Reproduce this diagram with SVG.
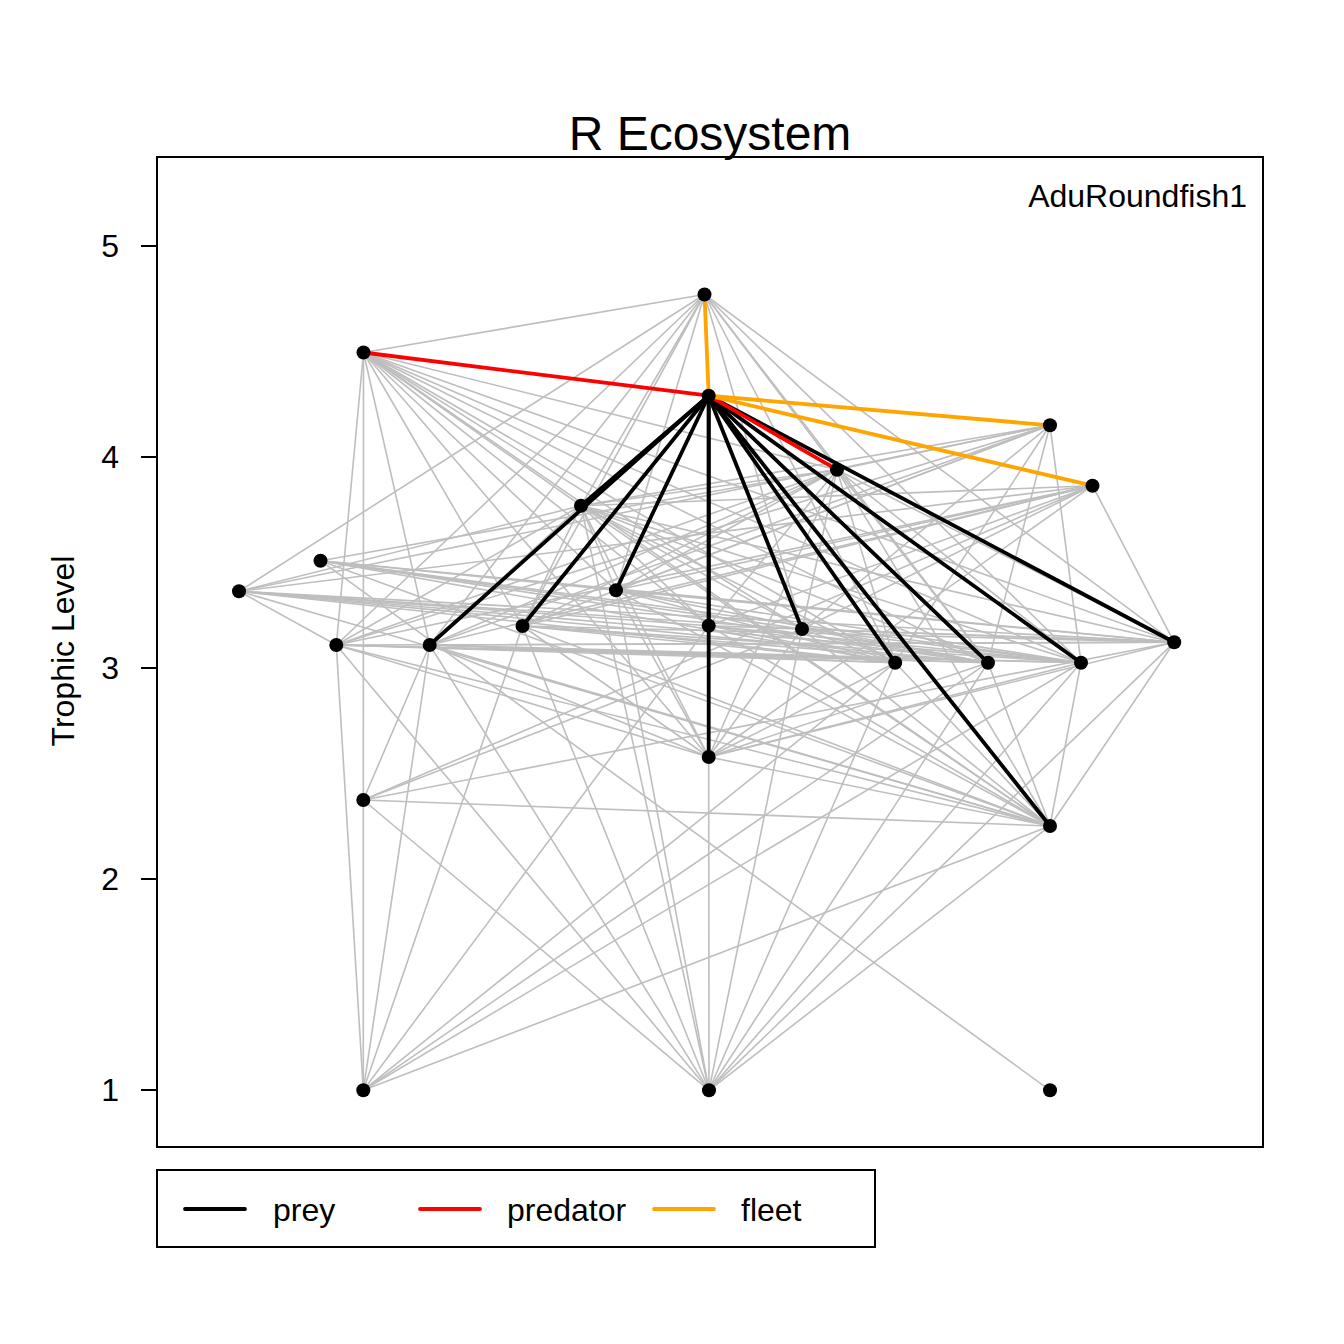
<svg xmlns="http://www.w3.org/2000/svg" width="1344" height="1344" viewBox="0 0 1344 1344">
<style>
text{font-family:"Liberation Sans",Arial,Helvetica,sans-serif;fill:#000}
.g line{stroke:#BEBEBE;stroke-width:1.6;stroke-linecap:round}
.hk line{stroke:#000;stroke-width:3.8;stroke-linecap:round}
.hr line{stroke:#FF0000;stroke-width:3.8;stroke-linecap:round}
.ho line{stroke:#FFA500;stroke-width:3.8;stroke-linecap:round}
.node circle{fill:#000}
.ax{stroke:#000;stroke-width:2;fill:none}
</style>
<rect width="1344" height="1344" fill="#fff"/>
<text x="710" y="150" font-size="48" text-anchor="middle">R Ecosystem</text>
<rect class="ax" x="157" y="157" width="1106" height="990"/>
<g class="ax">
<line x1="157" y1="1090" x2="157" y2="246"/>
<line x1="141" y1="1090" x2="157" y2="1090"/>
<line x1="141" y1="879" x2="157" y2="879"/>
<line x1="141" y1="668" x2="157" y2="668"/>
<line x1="141" y1="457" x2="157" y2="457"/>
<line x1="141" y1="246" x2="157" y2="246"/>
</g>
<g font-size="32" text-anchor="end">
<text x="119" y="1101">1</text>
<text x="119" y="890">2</text>
<text x="119" y="679">3</text>
<text x="119" y="468">4</text>
<text x="119" y="257">5</text>
</g>
<text transform="translate(74,651) rotate(-90)" font-size="32" text-anchor="middle">Trophic Level</text>
<text x="1247" y="207" font-size="32" text-anchor="end">AduRoundfish1</text>
<g id="connectors">
<g class="g">
<line x1="704.5" y1="294.5" x2="363.5" y2="352.5"/>
<line x1="704.5" y1="294.5" x2="239" y2="591.3"/>
<line x1="704.5" y1="294.5" x2="336.3" y2="645"/>
<line x1="704.5" y1="294.5" x2="429.7" y2="645"/>
<line x1="704.5" y1="294.5" x2="522.5" y2="626"/>
<line x1="704.5" y1="294.5" x2="581" y2="505.7"/>
<line x1="704.5" y1="294.5" x2="616" y2="590.3"/>
<line x1="704.5" y1="294.5" x2="802" y2="629"/>
<line x1="704.5" y1="294.5" x2="895.2" y2="662.7"/>
<line x1="704.5" y1="294.5" x2="988" y2="662.7"/>
<line x1="704.5" y1="294.5" x2="1081" y2="662.7"/>
<line x1="704.5" y1="294.5" x2="1174.2" y2="642.3"/>
<line x1="704.5" y1="294.5" x2="837" y2="469.7"/>
<line x1="1050" y1="425.3" x2="581" y2="505.7"/>
<line x1="1050" y1="425.3" x2="239" y2="591.3"/>
<line x1="1050" y1="425.3" x2="336.3" y2="645"/>
<line x1="1050" y1="425.3" x2="429.7" y2="645"/>
<line x1="1050" y1="425.3" x2="616" y2="590.3"/>
<line x1="1050" y1="425.3" x2="522.5" y2="626"/>
<line x1="1050" y1="425.3" x2="837" y2="469.7"/>
<line x1="1050" y1="425.3" x2="895.2" y2="662.7"/>
<line x1="1050" y1="425.3" x2="988" y2="662.7"/>
<line x1="1050" y1="425.3" x2="1081" y2="662.7"/>
<line x1="1050" y1="425.3" x2="802" y2="629"/>
<line x1="1092.5" y1="485.7" x2="1174.2" y2="642.3"/>
<line x1="1092.5" y1="485.7" x2="363.3" y2="800"/>
<line x1="1092.5" y1="485.7" x2="336.3" y2="645"/>
<line x1="1092.5" y1="485.7" x2="429.7" y2="645"/>
<line x1="1092.5" y1="485.7" x2="522.5" y2="626"/>
<line x1="1092.5" y1="485.7" x2="616" y2="590.3"/>
<line x1="1092.5" y1="485.7" x2="708.7" y2="625.7"/>
<line x1="1092.5" y1="485.7" x2="802" y2="629"/>
<line x1="1092.5" y1="485.7" x2="239" y2="591.3"/>
<line x1="1092.5" y1="485.7" x2="581" y2="505.7"/>
<line x1="1092.5" y1="485.7" x2="708.7" y2="757"/>
<line x1="363.5" y1="352.5" x2="837" y2="469.7"/>
<line x1="363.5" y1="352.5" x2="581" y2="505.7"/>
<line x1="363.5" y1="352.5" x2="616" y2="590.3"/>
<line x1="363.5" y1="352.5" x2="522.5" y2="626"/>
<line x1="363.5" y1="352.5" x2="708.7" y2="625.7"/>
<line x1="363.5" y1="352.5" x2="802" y2="629"/>
<line x1="363.5" y1="352.5" x2="336.3" y2="645"/>
<line x1="363.5" y1="352.5" x2="429.7" y2="645"/>
<line x1="363.5" y1="352.5" x2="895.2" y2="662.7"/>
<line x1="363.5" y1="352.5" x2="988" y2="662.7"/>
<line x1="363.5" y1="352.5" x2="1081" y2="662.7"/>
<line x1="363.5" y1="352.5" x2="363.3" y2="800"/>
<line x1="363.5" y1="352.5" x2="1050" y2="826"/>
<line x1="363.5" y1="352.5" x2="708.7" y2="757"/>
<line x1="363.5" y1="352.5" x2="1174.2" y2="642.3"/>
<line x1="837" y1="469.7" x2="320.5" y2="560.7"/>
<line x1="837" y1="469.7" x2="336.3" y2="645"/>
<line x1="837" y1="469.7" x2="429.7" y2="645"/>
<line x1="837" y1="469.7" x2="522.5" y2="626"/>
<line x1="837" y1="469.7" x2="616" y2="590.3"/>
<line x1="837" y1="469.7" x2="708.7" y2="625.7"/>
<line x1="837" y1="469.7" x2="802" y2="629"/>
<line x1="837" y1="469.7" x2="895.2" y2="662.7"/>
<line x1="837" y1="469.7" x2="988" y2="662.7"/>
<line x1="837" y1="469.7" x2="1081" y2="662.7"/>
<line x1="837" y1="469.7" x2="1174.2" y2="642.3"/>
<line x1="837" y1="469.7" x2="708.7" y2="757"/>
<line x1="837" y1="469.7" x2="1050" y2="826"/>
<line x1="837" y1="469.7" x2="581" y2="505.7"/>
<line x1="581" y1="505.7" x2="239" y2="591.3"/>
<line x1="581" y1="505.7" x2="336.3" y2="645"/>
<line x1="581" y1="505.7" x2="429.7" y2="645"/>
<line x1="581" y1="505.7" x2="522.5" y2="626"/>
<line x1="581" y1="505.7" x2="616" y2="590.3"/>
<line x1="581" y1="505.7" x2="708.7" y2="625.7"/>
<line x1="581" y1="505.7" x2="802" y2="629"/>
<line x1="581" y1="505.7" x2="895.2" y2="662.7"/>
<line x1="581" y1="505.7" x2="988" y2="662.7"/>
<line x1="581" y1="505.7" x2="1081" y2="662.7"/>
<line x1="581" y1="505.7" x2="1174.2" y2="642.3"/>
<line x1="581" y1="505.7" x2="708.7" y2="757"/>
<line x1="581" y1="505.7" x2="1050" y2="826"/>
<line x1="581" y1="505.7" x2="709" y2="1090.3"/>
<line x1="320.5" y1="560.7" x2="802" y2="629"/>
<line x1="320.5" y1="560.7" x2="895.2" y2="662.7"/>
<line x1="320.5" y1="560.7" x2="988" y2="662.7"/>
<line x1="320.5" y1="560.7" x2="1081" y2="662.7"/>
<line x1="320.5" y1="560.7" x2="1174.2" y2="642.3"/>
<line x1="320.5" y1="560.7" x2="1050" y2="826"/>
<line x1="320.5" y1="560.7" x2="616" y2="590.3"/>
<line x1="320.5" y1="560.7" x2="1050" y2="1090.3"/>
<line x1="239" y1="591.3" x2="336.3" y2="645"/>
<line x1="239" y1="591.3" x2="708.7" y2="625.7"/>
<line x1="239" y1="591.3" x2="802" y2="629"/>
<line x1="239" y1="591.3" x2="895.2" y2="662.7"/>
<line x1="239" y1="591.3" x2="988" y2="662.7"/>
<line x1="239" y1="591.3" x2="1081" y2="662.7"/>
<line x1="239" y1="591.3" x2="1174.2" y2="642.3"/>
<line x1="239" y1="591.3" x2="1050" y2="826"/>
<line x1="336.3" y1="645" x2="895.2" y2="662.7"/>
<line x1="336.3" y1="645" x2="988" y2="662.7"/>
<line x1="336.3" y1="645" x2="1081" y2="662.7"/>
<line x1="336.3" y1="645" x2="1174.2" y2="642.3"/>
<line x1="336.3" y1="645" x2="708.7" y2="757"/>
<line x1="336.3" y1="645" x2="1050" y2="826"/>
<line x1="336.3" y1="645" x2="363.3" y2="1090.3"/>
<line x1="336.3" y1="645" x2="709" y2="1090.3"/>
<line x1="429.7" y1="645" x2="895.2" y2="662.7"/>
<line x1="429.7" y1="645" x2="988" y2="662.7"/>
<line x1="429.7" y1="645" x2="1081" y2="662.7"/>
<line x1="429.7" y1="645" x2="1174.2" y2="642.3"/>
<line x1="429.7" y1="645" x2="708.7" y2="757"/>
<line x1="429.7" y1="645" x2="363.3" y2="800"/>
<line x1="429.7" y1="645" x2="1050" y2="826"/>
<line x1="429.7" y1="645" x2="363.3" y2="1090.3"/>
<line x1="429.7" y1="645" x2="709" y2="1090.3"/>
<line x1="522.5" y1="626" x2="895.2" y2="662.7"/>
<line x1="522.5" y1="626" x2="988" y2="662.7"/>
<line x1="522.5" y1="626" x2="1081" y2="662.7"/>
<line x1="522.5" y1="626" x2="1174.2" y2="642.3"/>
<line x1="522.5" y1="626" x2="708.7" y2="757"/>
<line x1="522.5" y1="626" x2="1050" y2="826"/>
<line x1="522.5" y1="626" x2="363.3" y2="1090.3"/>
<line x1="522.5" y1="626" x2="709" y2="1090.3"/>
<line x1="616" y1="590.3" x2="895.2" y2="662.7"/>
<line x1="616" y1="590.3" x2="988" y2="662.7"/>
<line x1="616" y1="590.3" x2="1081" y2="662.7"/>
<line x1="616" y1="590.3" x2="1174.2" y2="642.3"/>
<line x1="616" y1="590.3" x2="708.7" y2="757"/>
<line x1="616" y1="590.3" x2="1050" y2="826"/>
<line x1="616" y1="590.3" x2="709" y2="1090.3"/>
<line x1="708.7" y1="625.7" x2="895.2" y2="662.7"/>
<line x1="708.7" y1="625.7" x2="988" y2="662.7"/>
<line x1="708.7" y1="625.7" x2="1081" y2="662.7"/>
<line x1="708.7" y1="625.7" x2="1174.2" y2="642.3"/>
<line x1="708.7" y1="625.7" x2="1050" y2="826"/>
<line x1="708.7" y1="625.7" x2="363.3" y2="1090.3"/>
<line x1="802" y1="629" x2="895.2" y2="662.7"/>
<line x1="802" y1="629" x2="988" y2="662.7"/>
<line x1="802" y1="629" x2="1081" y2="662.7"/>
<line x1="802" y1="629" x2="1174.2" y2="642.3"/>
<line x1="802" y1="629" x2="708.7" y2="757"/>
<line x1="802" y1="629" x2="1050" y2="826"/>
<line x1="802" y1="629" x2="709" y2="1090.3"/>
<line x1="802" y1="629" x2="363.3" y2="800"/>
<line x1="895.2" y1="662.7" x2="1050" y2="826"/>
<line x1="895.2" y1="662.7" x2="363.3" y2="1090.3"/>
<line x1="895.2" y1="662.7" x2="709" y2="1090.3"/>
<line x1="895.2" y1="662.7" x2="708.7" y2="757"/>
<line x1="988" y1="662.7" x2="1050" y2="826"/>
<line x1="988" y1="662.7" x2="363.3" y2="1090.3"/>
<line x1="988" y1="662.7" x2="709" y2="1090.3"/>
<line x1="988" y1="662.7" x2="708.7" y2="757"/>
<line x1="1081" y1="662.7" x2="1050" y2="826"/>
<line x1="1081" y1="662.7" x2="363.3" y2="1090.3"/>
<line x1="1081" y1="662.7" x2="709" y2="1090.3"/>
<line x1="1081" y1="662.7" x2="708.7" y2="757"/>
<line x1="1174.2" y1="642.3" x2="708.7" y2="757"/>
<line x1="1174.2" y1="642.3" x2="363.3" y2="800"/>
<line x1="1174.2" y1="642.3" x2="1050" y2="826"/>
<line x1="1174.2" y1="642.3" x2="709" y2="1090.3"/>
<line x1="708.7" y1="757" x2="1050" y2="826"/>
<line x1="708.7" y1="757" x2="709" y2="1090.3"/>
<line x1="363.3" y1="800" x2="363.3" y2="1090.3"/>
<line x1="363.3" y1="800" x2="709" y2="1090.3"/>
<line x1="363.3" y1="800" x2="1050" y2="826"/>
<line x1="1050" y1="826" x2="363.3" y2="1090.3"/>
<line x1="1050" y1="826" x2="709" y2="1090.3"/>
</g>
<g class="hk">
<line x1="708.7" y1="395.7" x2="581" y2="505.7"/>
<line x1="708.7" y1="395.7" x2="522.5" y2="626"/>
<line x1="708.7" y1="395.7" x2="616" y2="590.3"/>
<line x1="708.7" y1="395.7" x2="429.7" y2="645"/>
<line x1="708.7" y1="395.7" x2="708.7" y2="625.7"/>
<line x1="708.7" y1="395.7" x2="708.7" y2="757"/>
<line x1="708.7" y1="395.7" x2="802" y2="629"/>
<line x1="708.7" y1="395.7" x2="895.2" y2="662.7"/>
<line x1="708.7" y1="395.7" x2="988" y2="662.7"/>
<line x1="708.7" y1="395.7" x2="1081" y2="662.7"/>
<line x1="708.7" y1="395.7" x2="1174.2" y2="642.3"/>
<line x1="708.7" y1="395.7" x2="1050" y2="826"/>
</g>
<g class="hr">
<line x1="708.7" y1="395.7" x2="363.5" y2="352.5"/>
<line x1="708.7" y1="395.7" x2="837" y2="469.7"/>
</g>
<g class="ho">
<line x1="708.7" y1="395.7" x2="704.5" y2="294.5"/>
<line x1="708.7" y1="395.7" x2="1050" y2="425.3"/>
<line x1="708.7" y1="395.7" x2="1092.5" y2="485.7"/>
</g>
</g>
<g id="nodes" class="node">
<g id="node-A"><circle cx="704.5" cy="294.5" r="7"/></g>
<g id="node-B"><circle cx="363.5" cy="352.5" r="7"/></g>
<g id="node-C"><circle cx="708.7" cy="395.7" r="7"/></g>
<g id="node-D"><circle cx="1050" cy="425.3" r="7"/></g>
<g id="node-E"><circle cx="837" cy="469.7" r="7"/></g>
<g id="node-F"><circle cx="1092.5" cy="485.7" r="7"/></g>
<g id="node-G"><circle cx="581" cy="505.7" r="7"/></g>
<g id="node-H"><circle cx="320.5" cy="560.7" r="7"/></g>
<g id="node-I"><circle cx="239" cy="591.3" r="7"/></g>
<g id="node-J"><circle cx="616" cy="590.3" r="7"/></g>
<g id="node-K"><circle cx="522.5" cy="626" r="7"/></g>
<g id="node-L"><circle cx="708.7" cy="625.7" r="7"/></g>
<g id="node-M"><circle cx="802" cy="629" r="7"/></g>
<g id="node-N"><circle cx="336.3" cy="645" r="7"/></g>
<g id="node-O"><circle cx="429.7" cy="645" r="7"/></g>
<g id="node-P"><circle cx="1174.2" cy="642.3" r="7"/></g>
<g id="node-Q"><circle cx="895.2" cy="662.7" r="7"/></g>
<g id="node-R"><circle cx="988" cy="662.7" r="7"/></g>
<g id="node-S"><circle cx="1081" cy="662.7" r="7"/></g>
<g id="node-T"><circle cx="708.7" cy="757" r="7"/></g>
<g id="node-U"><circle cx="363.3" cy="800" r="7"/></g>
<g id="node-V"><circle cx="1050" cy="826" r="7"/></g>
<g id="node-W"><circle cx="363.3" cy="1090.3" r="7"/></g>
<g id="node-X"><circle cx="709" cy="1090.3" r="7"/></g>
<g id="node-Y"><circle cx="1050" cy="1090.3" r="7"/></g>
</g>
<g id="legend">
<rect class="ax" x="157" y="1170" width="718" height="77"/>
<line x1="185" y1="1209" x2="245" y2="1209" stroke="#000" stroke-width="3.8" stroke-linecap="round"/>
<line x1="420" y1="1209" x2="480" y2="1209" stroke="#FF0000" stroke-width="3.8" stroke-linecap="round"/>
<line x1="654" y1="1209" x2="714" y2="1209" stroke="#FFA500" stroke-width="3.8" stroke-linecap="round"/>
<text x="273" y="1221" font-size="32">prey</text>
<text x="507" y="1221" font-size="32">predator</text>
<text x="741" y="1221" font-size="32">fleet</text>
</g>
</svg>
